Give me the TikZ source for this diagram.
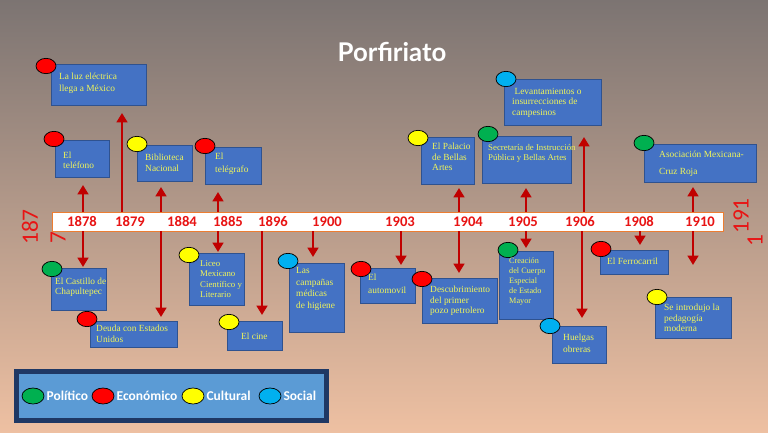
\documentclass[tikz,border=0pt]{standalone}
\usepackage{fontspec}
\setmainfont{Liberation Serif}
\newfontfamily\calibri{Carlito}
\newfontfamily\gill{Lato}
\usetikzlibrary{arrows.meta,fit,shapes.geometric}

\definecolor{bgtop}{RGB}{124,116,114}
\definecolor{bgbottom}{RGB}{238,192,162}
\definecolor{boxblue}{RGB}{68,114,196}
\definecolor{boxedge}{RGB}{47,82,143}
\definecolor{boxtext}{RGB}{240,245,90}
\definecolor{arrowred}{RGB}{192,0,0}
\definecolor{yearred}{RGB}{232,20,20}
\definecolor{barorange}{RGB}{237,125,49}
\definecolor{polgreen}{RGB}{0,176,80}
\definecolor{ecored}{RGB}{255,0,0}
\definecolor{culyellow}{RGB}{255,255,0}
\definecolor{socblue}{RGB}{0,176,240}
\definecolor{legfill}{RGB}{91,155,213}
\definecolor{legedge}{RGB}{31,56,100}

% hito: [text opts] name, nw corner, se corner, dot colour, dot pos, text pos, text
\newcommand{\hito}[8][]{%
  \node[hbox,fit={#3 #4}] (#2) {};
  \node[hdot,fill=#5] (#2dot) at #6 {};
  \node[htext,#1] (#2txt) at #7 {#8};
}
\newcommand{\chico}{\fontsize{7.5}{9}\selectfont}

\begin{document}
\begin{tikzpicture}[x=0.03cm,y=-0.03cm,
  hbox/.style={draw=boxedge,fill=boxblue,line width=0.8pt,inner sep=0pt},
  hdot/.style={ellipse,draw=black,line width=0.6pt,minimum width=0.6cm,minimum height=0.46cm,inner sep=0pt},
  htext/.style={anchor=north west,inner sep=0pt,align=left,text=boxtext,font=\fontsize{8}{9}\selectfont},
  evarrow/.style={draw=arrowred,line width=2.5pt,-{Triangle[width=0.32cm,length=0.28cm]}},
  year/.style={text=yearred,font=\calibri\bfseries\fontsize{12.5}{14}\selectfont},
  cut/.style={rotate=90,text=yearred,font=\calibri\fontsize{20}{24}\selectfont,inner sep=0pt},
  legtext/.style={anchor=west,text=white,font=\calibri\bfseries\fontsize{11.5}{14}\selectfont,inner sep=0pt}]
  \shade[top color=bgtop,bottom color=bgbottom] (0,0) rectangle (768,433);
  \useasboundingbox (0,0) rectangle (768,433);

  \node[text=white,font=\gill\bfseries\fontsize{22}{26}\selectfont] (title) at (392,52) {Porfiriato};

  % linea del tiempo
  \node[cut] (left187) at (30,227) {187};
  \node[cut] (left7) at (58,238) {7};
  \node[cut] (right191) at (741,216) {191};
  \node[cut] (right1) at (755,241) {1};
  \node[fit={(52,212) (723,231)},inner sep=0pt,draw=barorange,fill=white,line width=0.8pt] (bar) {};
  \foreach \yr/\x in {1878/82,1879/130,1884/182,1885/228,1896/273,1900/327,1903/400,1904/468,1905/523,1906/580,1908/639,1910/700}
    \node[year] (y\yr) at (\x,221.5) {\yr};

  % flechas
  \foreach \x/\y [count=\n] in {83/185,122/113,161/187,218/192,459/188,526/188,584/137,693/187} {
    \coordinate (up\n) at (\x,\y);
    \draw[evarrow] (bar.north -| up\n) -- (up\n);
  }
  \foreach \x/\y [count=\n] in {83/267,161/317,218/252,262/315,313/257,401/265,459/273,526/248,582/318,640/245,693/265} {
    \coordinate (dn\n) at (\x,\y);
    \draw[evarrow] (bar.south -| dn\n) -- (dn\n);
  }

  % hechos arriba
  \hito{luz}{(51,64)}{(146,105)}{ecored}{(46,66)}{(59,73)}{La luz eléctrica\\[1.2pt]llega a México}
  \hito{telefono}{(55,140)}{(109,177)}{ecored}{(54,139)}{(63,152)}{El\\[-0.5pt]teléfono}
  \hito{biblioteca}{(137,145)}{(192,181)}{culyellow}{(137,144)}{(145,154)}{Biblioteca\\Nacional}
  \hito{telegrafo}{(205,147)}{(261,184)}{ecored}{(205,146)}{(215,153)}{El\\[2pt]telégrafo}
  \hito{levanta}{(504,79)}{(601,125)}{socblue}{(506,79)}{(512,88)}{\hspace{2pt}Levantamientos o\\insurrecciones de\\campesinos}
  \hito{palacio}{(421,137)}{(474,184)}{culyellow}{(418,138)}{(432,143)}{El Palacio\\de Bellas\\Artes}
  \hito[font=\chico]{secretaria}{(482,136)}{(571,183)}{polgreen}{(488,134)}{(488,144)}{Secretaría de Instrucción\\Pública y Bellas Artes}
  \hito{cruzroja}{(644,144)}{(756,182)}{polgreen}{(644,143)}{(659,151)}{Asociación Mexicana-\\[5.5pt]Cruz Roja}

  % hechos abajo
  \hito{castillo}{(51,268)}{(106,310)}{polgreen}{(52,269)}{(55,278)}{El Castillo de\\[-0.5pt]Chapultepec}
  \hito{deuda}{(90,321)}{(177,347)}{ecored}{(87,319)}{(96,325)}{Deuda con Estados\\Unidos}
  \hito[font=\chico]{liceo}{(189,253)}{(244,305)}{culyellow}{(189,255)}{(200,260)}{Liceo\\Mexicano\\Científico y\\Literario}
  \hito{cine}{(227,321)}{(282,350)}{culyellow}{(229,322)}{(241,333)}{El cine}
  \hito{campanas}{(289,263)}{(344,332)}{socblue}{(288,261)}{(296,267)}{Las\\[1pt]campañas\\[1pt]médicas\\[1pt]de higiene}
  \hito{automovil}{(360,268)}{(415,303)}{ecored}{(361,269)}{(368,274)}{El\\[2pt]automovil}
  \hito{pozo}{(422,278)}{(497,323)}{ecored}{(422,279)}{(430,286)}{Descubrimiento\\del primer\\pozo petrolero}
  \hito[font=\fontsize{7}{8.5}\selectfont]{cuerpo}{(499,251)}{(553,319)}{polgreen}{(508,250)}{(509,258)}{Creación\\del Cuerpo\\Especial\\de Estado\\Mayor}
  \hito{huelgas}{(552,326)}{(606,363)}{socblue}{(550,326)}{(563,334)}{Huelgas\\[1.2pt]obreras}
  \hito{ferrocarril}{(600,250)}{(668,274)}{ecored}{(601,249)}{(607,258)}{El Ferrocarril}
  \hito{pedagogia}{(655,297)}{(731,338)}{culyellow}{(657,297)}{(664,304)}{Se introdujo la\\pedagogía\\moderna}

  % leyenda
  \node[fit={(16.5,371.5) (326.5,420.5)},inner sep=0pt,draw=legedge,fill=legfill,line width=0.15cm] (legend) {};
  \foreach \c/\x/\t [count=\n] in {polgreen/33/Político,ecored/103/Económico,culyellow/193/Cultural,socblue/270/Social} {
    \node[hdot,fill=\c,minimum width=0.66cm,minimum height=0.48cm] (ley\n) at (\x,396) {};
    \node[legtext] (leytxt\n) at ([xshift=0.06cm]ley\n.east) {\t};
  }
\end{tikzpicture}
\end{document}
